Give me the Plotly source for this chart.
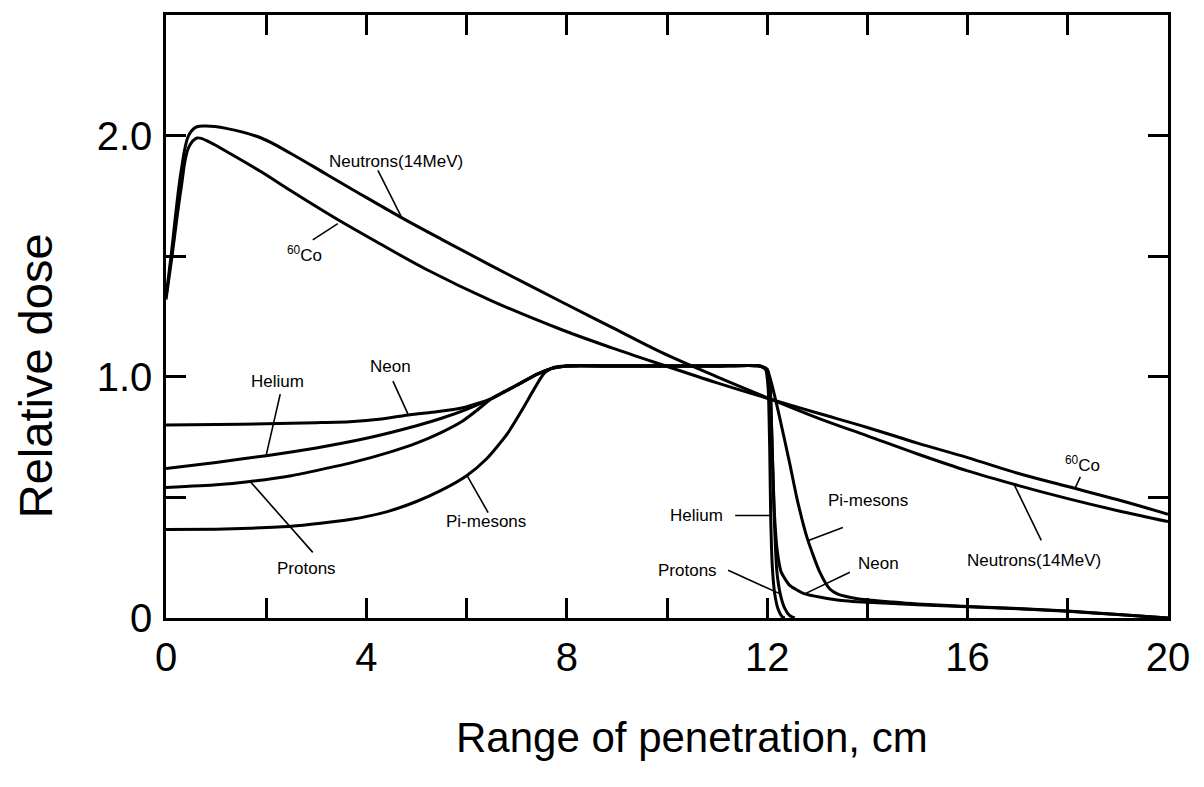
import plotly.graph_objects as go

# ---- data (depth in cm, relative dose) ----
co60_x = [0, 0.12, 0.3, 0.45, 0.62, 0.9, 1.2, 1.9, 2.5, 3.4, 4.2, 5.2, 6.5, 7.9, 8.9, 9.9, 11.0, 12.1,
          13, 14, 15, 16, 17, 18, 19, 20]
co60_y = [1.32, 1.50, 1.78, 1.95, 1.99, 1.97, 1.935, 1.85, 1.77, 1.655, 1.56, 1.445, 1.315, 1.195, 1.12, 1.05, 0.975, 0.905,
          0.85, 0.79, 0.725, 0.665, 0.60, 0.545, 0.49, 0.43]

neut_x = [0, 0.1, 0.3, 0.45, 0.6, 0.8, 1.2, 1.9, 2.5, 3.2, 3.9, 4.7, 5.5, 6.5, 7.9, 8.9, 9.9, 11.0, 12.1,
          13, 14, 15, 16, 17, 18, 19, 20]
neut_y = [1.33, 1.50, 1.85, 2.00, 2.035, 2.04, 2.03, 1.99, 1.925, 1.84, 1.755, 1.66, 1.57, 1.46, 1.31, 1.205, 1.10, 1.00, 0.905,
          0.83, 0.755, 0.68, 0.61, 0.55, 0.495, 0.445, 0.40]

helium_x = [0, 1, 2, 3, 4, 5, 5.5, 6, 6.5, 7, 7.4, 7.7, 8, 9, 10, 11, 11.85,
            11.97, 12.02, 12.05, 12.07, 12.1, 12.15, 12.22, 12.3, 12.35]
helium_y = [0.62, 0.645, 0.673, 0.705, 0.745, 0.797, 0.828, 0.865, 0.91, 0.965, 1.01, 1.035, 1.045, 1.045, 1.045, 1.045, 1.045,
            1.03, 0.95, 0.70, 0.42, 0.22, 0.10, 0.035, 0.005, 0.0]

proton_x = [0, 1, 1.68, 2.5, 3.67, 4.5, 5, 5.5, 5.93, 6.2, 6.5, 7, 7.4, 7.7, 8, 9, 10, 11, 11.85,
            12.0, 12.06, 12.1, 12.14, 12.19, 12.26, 12.35, 12.45, 12.55]
proton_y = [0.541, 0.552, 0.566, 0.59, 0.642, 0.69, 0.725, 0.77, 0.818, 0.86, 0.91, 0.965, 1.01, 1.035, 1.045, 1.045, 1.045, 1.045, 1.045,
            1.03, 0.95, 0.70, 0.42, 0.20, 0.10, 0.04, 0.01, 0.0]

neon_x = [0, 1, 2, 3, 3.67, 4.3, 4.87, 5.4, 5.93, 6.5, 7, 7.4, 7.7, 8, 9, 10, 11, 11.85,
          12.0, 12.06, 12.1, 12.14, 12.2, 12.28, 12.45, 12.75, 13.4, 14, 15, 16, 17, 18, 19, 20]
neon_y = [0.80, 0.802, 0.805, 0.81, 0.814, 0.825, 0.843, 0.855, 0.872, 0.91, 0.965, 1.01, 1.035, 1.045, 1.045, 1.045, 1.045, 1.045,
          1.03, 0.95, 0.70, 0.45, 0.28, 0.19, 0.135, 0.10, 0.075, 0.065, 0.055, 0.047, 0.038, 0.028, 0.014, 0.0]

pion_x = [0, 1, 1.68, 2.5, 3.67, 4.4, 5, 5.5, 6, 6.4, 6.8, 7.1, 7.35, 7.55, 7.75, 8, 9, 10, 11, 11.85,
          12.0, 12.05, 12.15, 12.25, 12.45, 12.6, 12.8, 13.05, 13.25, 13.4, 13.8, 14.5, 15, 16, 17, 18, 19, 20]
pion_y = [0.367, 0.368, 0.372, 0.38, 0.408, 0.44, 0.483, 0.53, 0.59, 0.66, 0.76, 0.86, 0.95, 1.015, 1.04, 1.045, 1.045, 1.045, 1.045, 1.045,
          1.03, 1.0, 0.92, 0.83, 0.64, 0.49, 0.33, 0.19, 0.12, 0.10, 0.08, 0.066, 0.058, 0.048, 0.039, 0.029, 0.015, 0.0]

x_tickvals = [0, 2, 4, 6, 8, 10, 12, 14, 16, 18, 20]
x_ticktext = ["0", "", "4", "", "8", "", "12", "", "16", "", "20"]
y_tickvals = [0, 0.5, 1.0, 1.5, 2.0]
y_ticktext = ["0", "", "1.0", "", "2.0"]

# ---- labels: text, text position, leader line start/end (data coords) ----
labels = [
    ("Neutrons(14MeV)", 4.59, 1.894, 4.23, 1.856, 4.70, 1.662),
    ("<sup>60</sup>Co", 2.77, 1.51, 2.93, 1.568, 3.43, 1.635),
    ("Helium", 2.22, 0.982, 2.28, 0.928, 2.0, 0.675),
    ("Neon", 4.49, 1.044, 4.53, 0.982, 4.83, 0.845),
    ("Protons", 2.81, 0.206, 2.93, 0.272, 1.68, 0.566),
    ("Pi-mesons", 6.39, 0.40, 6.43, 0.437, 6.01, 0.59),
    ("Helium", 10.58, 0.425, 11.36, 0.425, 12.07, 0.425),
    ("Protons", 10.40, 0.198, 11.22, 0.198, 12.26, 0.10),
    ("Pi-mesons", 14.01, 0.487, 13.51, 0.375, 12.81, 0.32),
    ("Neon", 14.23, 0.227, 13.65, 0.19, 12.75, 0.10),
    ("<sup>60</sup>Co", 18.3, 0.64, 18.25, 0.585, 18.15, 0.54),
    ("Neutrons(14MeV)", 17.33, 0.239, 17.47, 0.322, 16.92, 0.557),
]

FONT = "Liberation Sans, Arial, sans-serif"

fig = go.Figure()
series = [(co60_x, co60_y, 1.0), (neut_x, neut_y, 1.0), (helium_x, helium_y, 0.5),
          (proton_x, proton_y, 0.5), (neon_x, neon_y, 0.5), (pion_x, pion_y, 0.6)]
for xs, ys, sm in series:
    fig.add_trace(go.Scatter(x=xs, y=ys, mode="lines",
                             line=dict(color="black", width=3, shape="spline", smoothing=sm),
                             showlegend=False, hoverinfo="skip"))

for text, tx, ty, x0, y0, x1, y1 in labels:
    fig.add_shape(type="line", x0=x0, y0=y0, x1=x1, y1=y1, xref="x", yref="y",
                  line=dict(color="black", width=1.6))
    fig.add_annotation(x=tx, y=ty, text=text, showarrow=False, xref="x", yref="y",
                       font=dict(family=FONT, size=17, color="black"))

# axis titles
fig.add_annotation(x=0.525, y=-0.198, xref="paper", yref="paper", text="Range of penetration, cm",
                   xanchor="center", yanchor="middle",
                   showarrow=False, font=dict(family=FONT, size=42, color="black"))
fig.add_annotation(x=-0.1307, y=0.401, xref="paper", yref="paper", text="Relative dose", textangle=-90,
                   xanchor="center", yanchor="middle",
                   showarrow=False, font=dict(family=FONT, size=47, color="black"))

axis_common = dict(showgrid=False, zeroline=False, showline=True, linecolor="black", linewidth=2.5,
                   mirror="allticks", ticks="inside", ticklen=20, tickwidth=2.5, tickcolor="black",
                   tickfont=dict(family=FONT, size=40, color="black"))

fig.update_xaxes(range=[0, 20], tickmode="array", tickvals=x_tickvals, ticktext=x_ticktext,
                 ticklabelstandoff=2, **axis_common)
fig.update_yaxes(range=[0, 2.5], tickmode="array", tickvals=y_tickvals, ticktext=y_ticktext,
                 ticklabelstandoff=3, **axis_common)

fig.update_layout(width=1204, height=787, margin=dict(l=166, r=36, t=12, b=169),
                  plot_bgcolor="white", paper_bgcolor="white")

fig.write_html("out.html")
